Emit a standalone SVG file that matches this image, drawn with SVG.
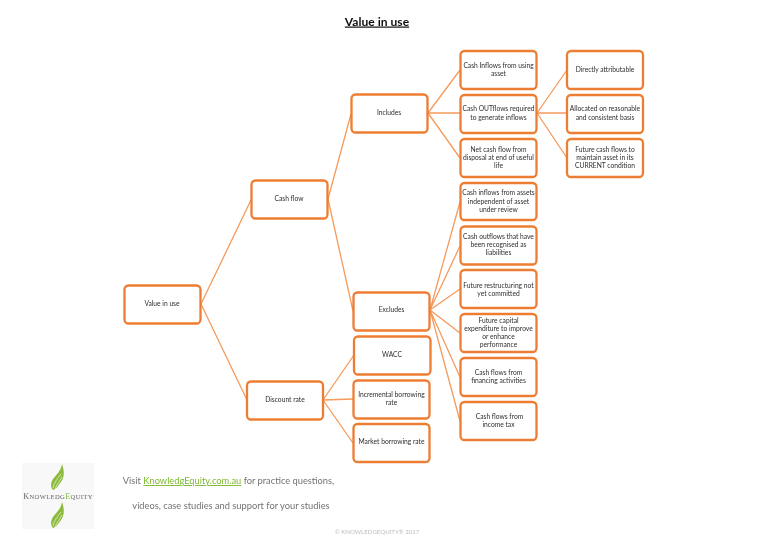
<svg xmlns="http://www.w3.org/2000/svg" width="768" height="543" viewBox="0 0 768 543">
<defs>
<style>
text{font-family:Lato,"Liberation Sans",sans-serif;text-anchor:middle}
.n rect{fill:#fff;stroke:#ed7d31;stroke-width:2.3}
.n text{font-size:6.7px;fill:#2f2f2f}
#connectors path{fill:none;stroke:#f59a5c;stroke-width:1.3}
.foot{font-size:9.3px;fill:#737373}
</style>
<filter id="soft" x="-5%" y="-5%" width="110%" height="110%"><feGaussianBlur stdDeviation="0.3"/></filter>
<filter id="soft2" x="-10%" y="-10%" width="120%" height="120%"><feGaussianBlur stdDeviation="0.4"/></filter>
<g id="leaf"><path d="M0 0C-3 -3 -2 -8 0 -11C3 -15 8 -19 9 -26C12 -18 11 -12 8 -8C5 -4 3 -1 0 0Z" fill="#8dbb3c"/><path d="M0 -2C1 -7 4 -11 8 -16M2 -1C4 -6 7 -9 9 -13" fill="none" stroke="#eef5dc" stroke-width="0.7"/></g>
</defs>
<rect width="768" height="543" fill="#fff"/>
<g filter="url(#soft)">
<text x="377" y="25.500" style="font-size:12.1px;font-weight:700;fill:#111;text-decoration:underline">Value in use</text>
<g id="connectors">
<path d="M201 304L251 200M201 304L247 400"/>
<path d="M328 199L351 114M328 199L353 311"/>
<path d="M428 113L460 70M428 113H460M428 113L460 158"/>
<path d="M537 113L567 70M537 113H567M537 113L567 158"/>
<path d="M430 310L460 202M430 310L460 246M430 310L460 289M430 310L460 333M430 310L460 377M430 310L460 421"/>
<path d="M323 400L354 355M323 400L353 399M323 400L353 443"/>
</g>
<g id="n-value" class="n"><rect x="124.500" y="285.500" width="76" height="38" rx="4"/><text x="162" y="305.500">Value in use</text></g>
<g id="n-cashflow" class="n"><rect x="251.500" y="180.500" width="76" height="38" rx="4"/><text x="289" y="201">Cash flow</text></g>
<g id="n-discount" class="n"><rect x="247" y="381.500" width="76" height="38" rx="4"/><text x="285" y="401.500">Discount rate</text></g>
<g id="n-includes" class="n"><rect x="351.500" y="94.500" width="76" height="38" rx="4"/><text x="389" y="115">Includes</text></g>
<g id="n-excludes" class="n"><rect x="353.500" y="292.500" width="76" height="38" rx="4"/><text x="391.500" y="312">Excludes</text></g>
<g id="n-wacc" class="n"><rect x="354" y="336.500" width="76.500" height="38" rx="4"/><text x="392" y="356.500">WACC</text></g>
<g id="n-incremental" class="n"><rect x="353.500" y="380.500" width="76" height="38" rx="4"/><text x="391.500" y="396.500">Incremental borrowing</text><text x="391.500" y="404.500">rate</text></g>
<g id="n-market" class="n"><rect x="353.500" y="424" width="76" height="38" rx="4"/><text x="391.500" y="444">Market borrowing rate</text></g>
<g id="n-c1" class="n"><rect x="460.500" y="51" width="76" height="38" rx="4"/><text x="498.500" y="68">Cash Inflows from using</text><text x="498.500" y="76">asset</text></g>
<g id="n-c2" class="n"><rect x="460.500" y="95" width="76" height="38" rx="4"/><text x="498.500" y="111">Cash OUTflows required</text><text x="498.500" y="119.500">to generate inflows</text></g>
<g id="n-c3" class="n"><rect x="460.500" y="139" width="76" height="38" rx="4"/><text x="498.500" y="152">Net cash flow from</text><text x="498.500" y="160">disposal at end of useful</text><text x="498.500" y="167.500">life</text></g>
<g id="n-c4" class="n"><rect x="460.500" y="183" width="76" height="37" rx="4"/><text x="498.500" y="195">Cash inflows from assets</text><text x="498.500" y="203.500">independent of asset</text><text x="498.500" y="211.500">under review</text></g>
<g id="n-c5" class="n"><rect x="460.500" y="226.500" width="76" height="38" rx="4"/><text x="498.500" y="239">Cash outflows that have</text><text x="498.500" y="247">been recognised as</text><text x="498.500" y="255">liabilities</text></g>
<g id="n-c6" class="n"><rect x="460.500" y="270" width="76" height="38" rx="4"/><text x="498.500" y="287.500">Future restructuring not</text><text x="498.500" y="295.500">yet committed</text></g>
<g id="n-c7" class="n"><rect x="460.500" y="314" width="76" height="38" rx="4"/><text x="498.500" y="322.500">Future capital</text><text x="498.500" y="330.500">expenditure to improve</text><text x="498.500" y="339">or enhance</text><text x="498.500" y="347">performance</text></g>
<g id="n-c8" class="n"><rect x="460.500" y="358" width="76" height="38" rx="4"/><text x="498.500" y="374.500">Cash flows from</text><text x="498.500" y="382.500">financing activities</text></g>
<g id="n-c9" class="n"><rect x="460.500" y="402" width="76" height="38" rx="4"/><text x="499.500" y="418.500">Cash flows from</text><text x="498.500" y="426.500">income tax</text></g>
<g id="n-d1" class="n"><rect x="567" y="51" width="76" height="38" rx="4"/><text x="605" y="72">Directly attributable</text></g>
<g id="n-d2" class="n"><rect x="567" y="95" width="76" height="38" rx="4"/><text x="605" y="111">Allocated on reasonable</text><text x="605" y="119.500">and consistent basis</text></g>
<g id="n-d3" class="n"><rect x="567" y="139" width="76" height="38" rx="4"/><text x="605" y="152">Future cash flows to</text><text x="605" y="160">maintain asset in its</text><text x="605" y="167.500">CURRENT condition</text></g>
</g>
<g id="logo">
<rect x="22" y="463" width="72" height="66" fill="#f8f8f8"/>
<g filter="url(#soft2)">
<use href="#leaf" transform="translate(53 490)"/>
<use href="#leaf" transform="translate(53 528)"/>
<text x="58" y="498.500" style="font-family:'Liberation Serif',serif;font-size:8.2px;fill:#666;letter-spacing:0.35px">K<tspan font-size="6.6">NOWLEDG</tspan><tspan fill="#8dbb3c">E</tspan><tspan font-size="6.6">QUITY</tspan></text>
</g>
</g>
<g filter="url(#soft)">
<text class="foot" x="228.500" y="484">Visit <tspan fill="#7cb82f" text-decoration="underline">KnowledgEquity.com.au</tspan> for practice questions,</text>
<text class="foot" x="231" y="509">videos, case studies and support for your studies</text>
<text x="377" y="534" style="font-size:6.1px;fill:#bdbdbd">© KNOWLEDGEQUITY® 2017</text>
</g>
</svg>
